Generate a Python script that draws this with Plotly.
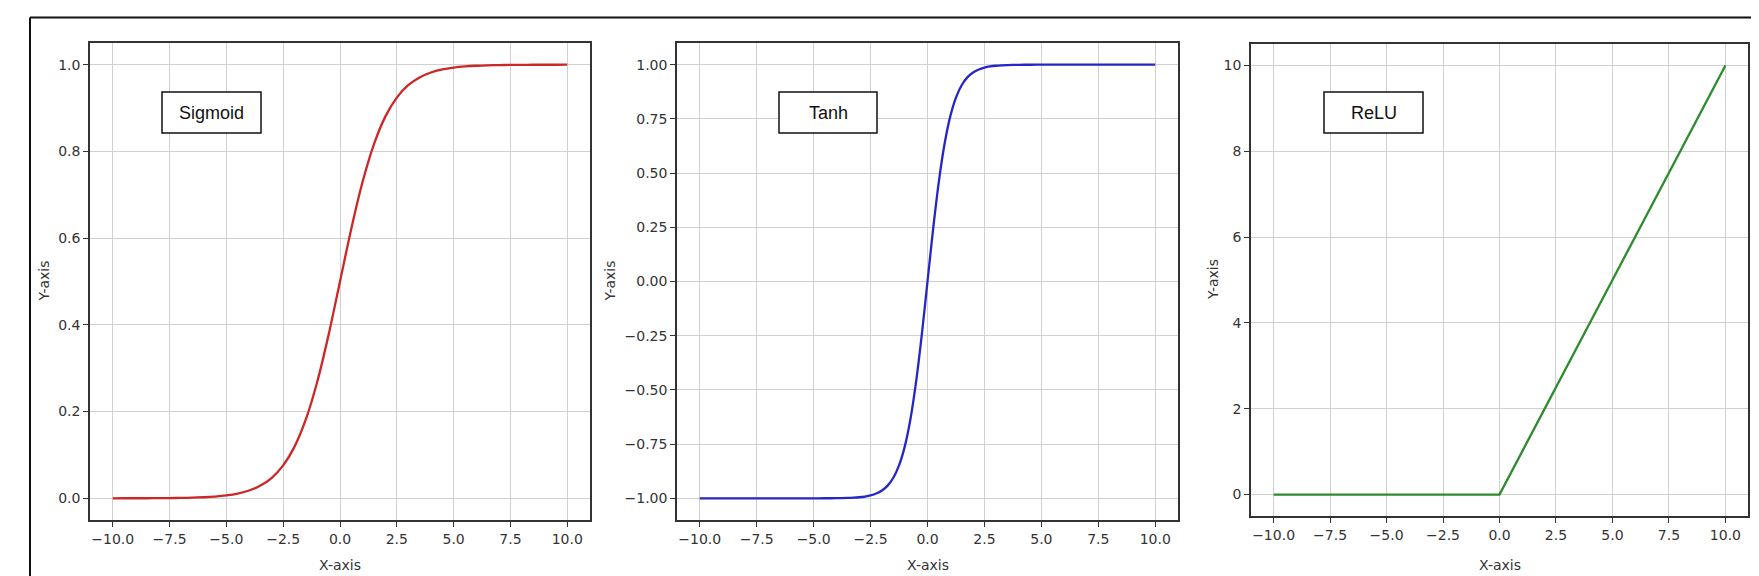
import plotly.graph_objects as go

W, H = 1759, 576

# ---------------- data ----------------
x_sigmoid = [-10, -9.5, -9, -8.5, -8, -7.5, -7, -6.5, -6, -5.5, -5, -4.5, -4, -3.5, -3,
             -2.5, -2, -1.5, -1, -0.5, 0, 0.5, 1, 1.5, 2, 2.5, 3, 3.5, 4, 4.5, 5,
             5.5, 6, 6.5, 7, 7.5, 8, 8.5, 9, 9.5, 10]
y_sigmoid = [0.0000, 0.0001, 0.0001, 0.0002, 0.0003, 0.0006, 0.0009, 0.0015, 0.0025, 0.0041,
             0.0067, 0.0110, 0.0180, 0.0293, 0.0474, 0.0759, 0.1192, 0.1824, 0.2689, 0.3775,
             0.5000, 0.6225, 0.7311, 0.8176, 0.8808, 0.9241, 0.9526, 0.9707, 0.9820, 0.9890,
             0.9933, 0.9959, 0.9975, 0.9985, 0.9991, 0.9994, 0.9997, 0.9998, 0.9999, 0.9999, 1.0000]

x_tanh = [-10, -9, -8, -7, -6, -5, -4.5, -4, -3.5, -3.25, -3, -2.75, -2.5, -2.25, -2,
          -1.75, -1.5, -1.25, -1, -0.75, -0.5, -0.25, 0, 0.25, 0.5, 0.75, 1, 1.25, 1.5,
          1.75, 2, 2.25, 2.5, 2.75, 3, 3.25, 3.5, 4, 4.5, 5, 6, 7, 8, 9, 10]
y_tanh = [-1.0000, -1.0000, -1.0000, -1.0000, -1.0000, -0.9999, -0.9998, -0.9993, -0.9982,
          -0.9970, -0.9951, -0.9918, -0.9866, -0.9780, -0.9640, -0.9414, -0.9051, -0.8483,
          -0.7616, -0.6351, -0.4621, -0.2449, 0.0000, 0.2449, 0.4621, 0.6351, 0.7616, 0.8483,
          0.9051, 0.9414, 0.9640, 0.9780, 0.9866, 0.9918, 0.9951, 0.9970, 0.9982, 0.9993,
          0.9998, 0.9999, 1.0000, 1.0000, 1.0000, 1.0000, 1.0000]

x_relu = [-10, -5, 0, 5, 10]
y_relu = [0, 0, 0, 5, 10]

x_tickvals = [-10, -7.5, -5, -2.5, 0, 2.5, 5, 7.5, 10]
x_ticktext = ["\u221210.0", "\u22127.5", "\u22125.0", "\u22122.5", "0.0", "2.5", "5.0", "7.5", "10.0"]

y1_tickvals = [0, 0.2, 0.4, 0.6, 0.8, 1.0]
y1_ticktext = ["0.0", "0.2", "0.4", "0.6", "0.8", "1.0"]
y2_tickvals = [-1, -0.75, -0.5, -0.25, 0, 0.25, 0.5, 0.75, 1]
y2_ticktext = ["\u22121.00", "\u22120.75", "\u22120.50", "\u22120.25", "0.00", "0.25", "0.50", "0.75", "1.00"]
y3_tickvals = [0, 2, 4, 6, 8, 10]
y3_ticktext = ["0", "2", "4", "6", "8", "10"]

names = ["Sigmoid", "Tanh", "ReLU"]
colors = ["#cc2626", "#2626c8", "#2e8b2e"]
x_title = "X-axis"
y_title = "Y-axis"

# ---------------- layout helpers ----------------
def px(x):
    return x / W

def py(y):
    return 1 - y / H

panels = [
    # left, right, top, bottom (pixels)
    dict(l=82, r=582, t=35, b=512, yr=[-0.05, 1.05], tv=y1_tickvals, tt=y1_ticktext, ytx=35),
    dict(l=669, r=1170, t=35, b=512, yr=[-1.1, 1.1], tv=y2_tickvals, tt=y2_ticktext, ytx=601),
    dict(l=1243, r=1740, t=36, b=508, yr=[-0.5, 10.5], tv=y3_tickvals, tt=y3_ticktext, ytx=1205),
]
boxes = [(154, 253), (771, 869), (1316, 1415)]
box_y = (84, 125)

tick_font = dict(family="DejaVu Sans, Liberation Sans, sans-serif", size=14, color="#333333")
grid_col = "#d0d0d0"
axis_col = "#333333"

fig = go.Figure()
series = [(x_sigmoid, y_sigmoid), (x_tanh, y_tanh), (x_relu, y_relu)]
for i, (xs, ys) in enumerate(series):
    sfx = "" if i == 0 else str(i + 1)
    fig.add_trace(go.Scatter(
        x=xs, y=ys, mode="lines", name=names[i],
        line=dict(color=colors[i], width=2.3, shape="spline" if i < 2 else "linear", smoothing=0.8),
        xaxis="x" + sfx, yaxis="y" + sfx, showlegend=False, hoverinfo="skip"))

layout = dict(
    width=W, height=H, autosize=False,
    margin=dict(l=0, r=0, t=0, b=0),
    paper_bgcolor="white", plot_bgcolor="white",
    showlegend=False,
)
shapes = []
annotations = []
for i, p in enumerate(panels):
    sfx = "" if i == 0 else str(i + 1)
    common = dict(
        showline=True, mirror=True, linecolor=axis_col, linewidth=1.5,
        showgrid=True, gridcolor=grid_col, gridwidth=1, zeroline=False,
        ticks="outside", ticklen=5, tickwidth=1.2, tickcolor=axis_col,
        tickfont=tick_font, fixedrange=True,
    )
    layout["xaxis" + sfx] = dict(
        common, domain=[px(p["l"]), px(p["r"])], range=[-11, 11],
        tickmode="array", tickvals=x_tickvals, ticktext=x_ticktext,
        anchor="y" + sfx,
    )
    layout["yaxis" + sfx] = dict(
        common, domain=[py(p["b"]), py(p["t"])], range=p["yr"],
        tickmode="array", tickvals=p["tv"], ticktext=p["tt"],
        anchor="x" + sfx,
    )
    # axis titles
    annotations.append(dict(
        xref="paper", yref="paper", x=px((p["l"] + p["r"]) / 2), y=py(557),
        text=x_title, showarrow=False, xanchor="center", yanchor="middle",
        font=dict(family="DejaVu Sans, sans-serif", size=14, color="#333333")))
    annotations.append(dict(
        xref="paper", yref="paper", x=px(p["ytx"]), y=py((p["t"] + p["b"]) / 2),
        text=y_title, showarrow=False, textangle=-90, xanchor="center", yanchor="middle",
        font=dict(family="DejaVu Sans, sans-serif", size=14, color="#333333")))
    # label boxes
    bx0, bx1 = boxes[i]
    shapes.append(dict(
        type="rect", xref="paper", yref="paper",
        x0=px(bx0), x1=px(bx1), y0=py(box_y[1]), y1=py(box_y[0]),
        line=dict(color="#111111", width=1.5), fillcolor="white", layer="above"))
    annotations.append(dict(
        xref="paper", yref="paper", x=px((bx0 + bx1) / 2), y=py((box_y[0] + box_y[1]) / 2),
        text=names[i], showarrow=False, xanchor="center", yanchor="middle",
        font=dict(family="Liberation Sans, Arial, sans-serif", size=18, color="#111111")))

# outer frame
shapes.append(dict(type="line", xref="paper", yref="paper",
                   x0=px(22), x1=px(22), y0=py(9.5), y1=py(580),
                   line=dict(color="#111111", width=2)))
shapes.append(dict(type="line", xref="paper", yref="paper",
                   x0=px(22), x1=px(1750), y0=py(9.5), y1=py(9.5),
                   line=dict(color="#111111", width=2)))
shapes.append(dict(type="line", xref="paper", yref="paper",
                   x0=px(1750), x1=px(1750), y0=py(9.5), y1=py(580),
                   line=dict(color="#333333", width=2)))

layout["shapes"] = shapes
layout["annotations"] = annotations
fig.update_layout(**layout)

fig.write_html("out.html", config={"displayModeBar": False})
